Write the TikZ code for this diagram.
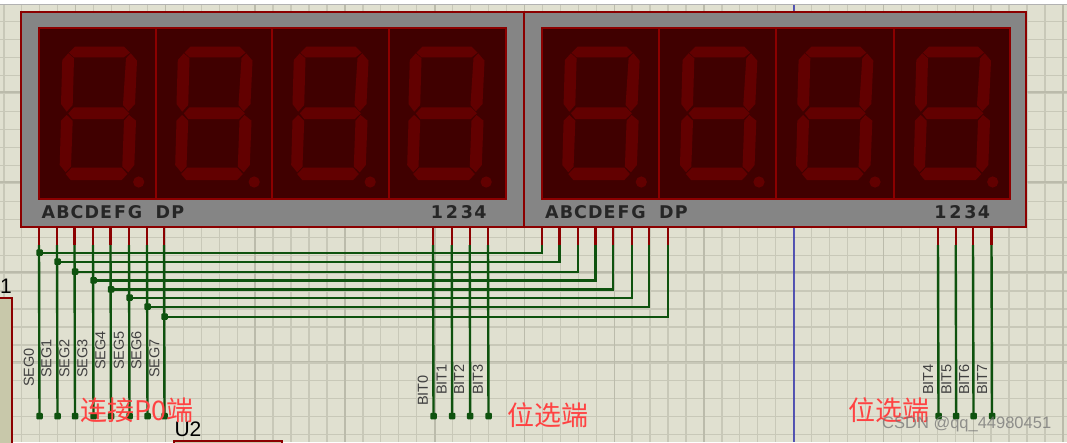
\documentclass[tikz,border=0pt]{standalone}
\usepackage{fontspec}
\setmainfont{Liberation Sans}
\newfontfamily\pinfont{DejaVu Sans}
\newfontfamily\cjkfont{Noto Sans CJK SC}
\usetikzlibrary{positioning}
\definecolor{sheetbg}{HTML}{E0E0D0}
\definecolor{minorgrid}{HTML}{C8C8B8}
\definecolor{majorgrid}{HTML}{BBBBAB}
\definecolor{panelgray}{HTML}{858585}
\definecolor{panelred}{HTML}{8B0000}
\definecolor{cellred}{HTML}{400000}
\definecolor{segred}{HTML}{620000}
\definecolor{wiregreen}{HTML}{0E520E}
\definecolor{notered}{HTML}{FF4242}
\definecolor{chipfill}{HTML}{C8C8AA}
\tikzset{MinorGrid/.style={%
    draw=minorgrid,%
    line width=1.3pt,%
}}
\tikzset{MajorGrid/.style={%
    draw=majorgrid,%
    line width=1.6pt,%
}}
\tikzset{Panel/.style={%
    shape=rectangle,%
    draw=panelred,%
    fill=panelgray,%
    line width=2pt,%
    minimum width=502.5pt,%
    minimum height=215pt,%
    outer sep=0pt,%
    inner sep=0pt,%
}}
\tikzset{Cell/.style={%
    shape=rectangle,%
    draw=panelred,%
    fill=cellred,%
    line width=2pt,%
    minimum height=171pt,%
    outer sep=0pt,%
    inner sep=0pt,%
}}
\tikzset{Segment/.style={%
    fill=segred,%
}}
\tikzset{PinStub/.style={%
    draw=panelred,%
    line width=2.4pt,%
}}
\tikzset{Wire/.style={%
    draw=wiregreen,%
    line width=2.4pt,%
}}
\tikzset{Junction/.style={%
    shape=rectangle,%
    fill=wiregreen,%
    rounded corners=1pt,%
    minimum size=6.5pt,%
    inner sep=0pt,%
}}
\tikzset{PinLetter/.style={%
    text=black!85,%
    font=\pinfont\bfseries\fontsize{17.5}{17.5}\selectfont,%
    inner sep=0pt,%
}}
\tikzset{NetLabel/.style={%
    rotate=90,%
    anchor=west,%
    text=black!75,%
    font=\fontsize{14.5}{14.5}\selectfont,%
    inner sep=0pt,%
}}
\tikzset{RefLabel/.style={%
    text=black,%
    font=\fontsize{21}{21}\selectfont,%
    inner sep=0pt,%
}}
\tikzset{Note/.style={%
    text=notered,%
    font=\cjkfont\fontsize{27}{27}\selectfont,%
    inner sep=0pt,%
}}
\NewDocumentCommand{\digitAt}{m}{%
    \begin{scope}[shift={(#1,0)}]
        \fill[Segment] (30,52.7) -- (36,46.7) -- (85,46.7) -- (91,52.7) -- (85,57.3) -- (35,57.3) -- cycle;
        \fill[Segment] (91.7,53.3) -- (98,60.7) -- (96,104) -- (89.3,111.3) -- (84,105) -- (87,58.3) -- cycle;
        \fill[Segment] (29.3,53.3) -- (35,58.3) -- (33.7,105) -- (27.7,111.7) -- (22,104) -- (23.3,60) -- cycle;
        \fill[Segment] (29.3,113.3) -- (35,107.3) -- (84.3,107.3) -- (90.3,113.3) -- (84.3,119) -- (33.7,119) -- cycle;
        \fill[Segment] (27.7,115) -- (33.7,120.7) -- (32,166.7) -- (26.7,172.3) -- (20.7,165) -- (22,120.7) -- cycle;
        \fill[Segment] (90,115) -- (97,120.7) -- (95.3,165) -- (89.3,172.3) -- (83.3,166.7) -- (85,120.7) -- cycle;
        \fill[Segment] (26.7,174) -- (32.7,167.7) -- (82.7,167.7) -- (88.3,174) -- (82.7,180) -- (31.7,180) -- cycle;
        \fill[Segment] (99.7,182) circle (5.6);
    \end{scope}%
}
\NewDocumentCommand{\pinLetters}{m m}{%
    \foreach \ltr/\lx in {A/48.3,B/63,C/77,D/92,E/106,F/120,G/135,D/163,P/177.7}{%
        \node[PinLetter] (#1\ltr\lx) at (\lx+#2,212) {\ltr};
    }%
    \foreach \ltr/\lx in {1/437,2/452,3/467,4/480.5}{%
        \node[PinLetter] (#1n\ltr) at (\lx+#2,212.5) {\ltr};
    }%
}

\begin{document}
\begin{tikzpicture}[x=1pt,y=-1pt]
    \useasboundingbox (0,0) rectangle (1067,442);
    \clip (0,0) rectangle (1067,442);

    % sheet
    \fill[sheetbg] (0,0) rectangle (1067,442);
    \foreach \k in {0,...,59}
        \draw[MinorGrid] (3.85+\k*17.95,4) -- (3.85+\k*17.95,442);
    \foreach \k in {0,...,24}
        \draw[MinorGrid] (0,3.85+\k*17.95) -- (1067,3.85+\k*17.95);
    \foreach \x in {75.6,165.4,255.2,345,434.7,524.5,614.3,704,883.6,973.3,1063}
        \draw[MajorGrid] (\x,4) -- (\x,442);
    \foreach \y in {92,181.9,271.7,361.5}
        \draw[MajorGrid] (0,\y) -- (1067,\y);
    \fill[white] (0,0) rectangle (1067,4);
    \draw[black!30, line width=1pt] (0,4) -- (1067,4);
    \draw[blue!60!black!80, line width=1.5pt, draw opacity=.8] (794,5) -- (794,442);

    % parts at the border of the crop
    \draw[panelred, fill=chipfill, line width=2pt] (-5,297.5) rectangle (12,450);
    \draw[panelred, fill=chipfill, line width=2pt] (174,441) rectangle (282,460);
    \node[RefLabel, anchor=west] (ref1) at (0,286.5) {1};
    \node[RefLabel] (refU2) at (188,429.5) {U2};

    % wires
    \foreach \i/\xa/\xb/\yb in {0/39/541.7/252.7,1/57/559.5/261.7,2/74.5/578/271.7,3/93/595.5/280.3,4/110.5/613/289.3,5/129/631.7/297.7,6/147/649/306.7,7/164/668/316.7}{%
        \coordinate (ptop\i) at (\xa,226);
        \coordinate (pbot\i) at (\xa,245);
        \coordinate (qtop\i) at (\xb,226);
        \coordinate (qbot\i) at (\xb,245);
        \node[Junction] (seg\i) at (\xa+.5,416) {};
        \node[Junction] (bus\i) at (\xa+.5,\yb) {};
        \coordinate (turn\i) at (\xb,\yb);
        \draw[PinStub] (ptop\i) -- (pbot\i);
        \draw[PinStub] (qtop\i) -- (qbot\i);
        \draw[Wire] (pbot\i) -- (seg\i.center);
        \draw[Wire] (bus\i.center) -- (turn\i) -- (qbot\i);
    }
    \foreach \i/\xa in {0/433,1/451.7,2/469.7,3/488,4/938,5/955.7,6/973,7/991.5}{%
        \coordinate (btop\i) at (\xa,226);
        \coordinate (bmid\i) at (\xa,245);
        \node[Junction] (bit\i) at (\xa+.5,416) {};
        \draw[PinStub] (btop\i) -- (bmid\i);
        \draw[Wire] (bmid\i) -- (bit\i.center);
    }

    % displays
    \node[Panel, anchor=north west] (panelA) at (21,11.5) {};
    \node[Panel, right=0pt of panelA] (panelB) {};
    \node[Cell, minimum width=116.5pt, anchor=north west] (c0) at (39,28) {};
    \node[Cell, minimum width=116.5pt, right=0pt of c0] (c1) {};
    \node[Cell, minimum width=116.5pt, right=0pt of c1] (c2) {};
    \node[Cell, minimum width=117pt, right=0pt of c2] (c3) {};
    \node[Cell, minimum width=117pt, anchor=north west] (c4) at (541.5,28) {};
    \node[Cell, minimum width=117.5pt, right=0pt of c4] (c5) {};
    \node[Cell, minimum width=117.5pt, right=0pt of c5] (c6) {};
    \node[Cell, minimum width=116.5pt, right=0pt of c6] (c7) {};
    \digitAt{39}
    \digitAt{154.5}
    \digitAt{270.5}
    \digitAt{386.5}
    \digitAt{541.6}
    \digitAt{659.3}
    \digitAt{775.3}
    \digitAt{893}
    \pinLetters{a}{0}
    \pinLetters{b}{503.5}

    % net labels
    \foreach \i/\x/\y in {0/29/387,1/46.5/378,2/64.5/378,3/82.5/378,4/100.5/370,5/119/370,6/136.5/370,7/154.5/378}
        \node[NetLabel] (lseg\i) at (\x,\y) {SEG\i};
    \foreach \i/\x/\y in {0/423/406,1/441.7/395,2/459/395,3/478/395,4/928/395,5/946.5/395,6/964/395,7/982/395}
        \node[NetLabel] (lbit\i) at (\x,\y) {BIT\i};

    % notes
    \node[Note, anchor=west] (noteP0) at (80,410.5) {连接P0端};
    \node[Note, anchor=west] (noteA) at (507,415) {位选端};
    \node[Note, anchor=west] (noteB) at (848,410.5) {位选端};
    \node[text=black!55, text opacity=.75, font=\fontsize{16.5}{16.5}\selectfont, inner sep=0pt, anchor=west] (mark) at (882,424) {CSDN @qq\_44980451};
\end{tikzpicture}
\end{document}
